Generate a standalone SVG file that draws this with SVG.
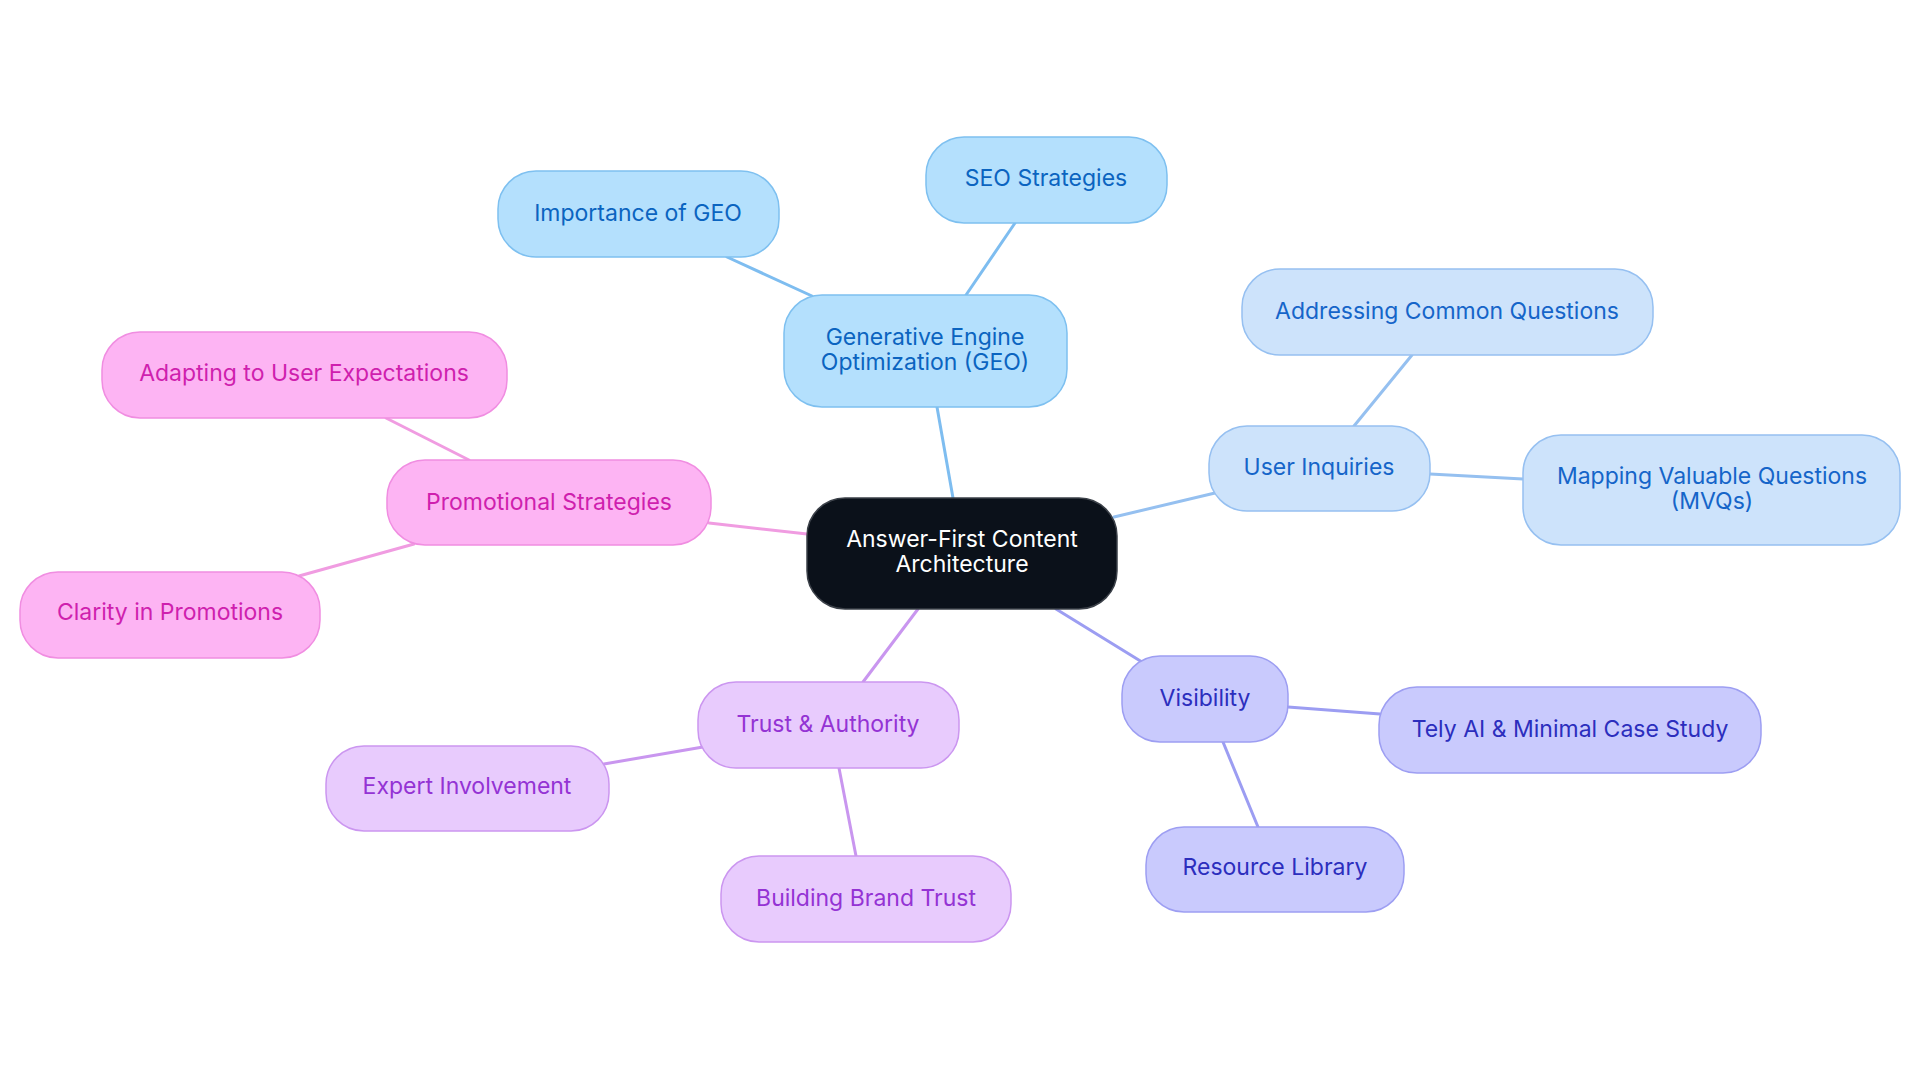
<svg xmlns="http://www.w3.org/2000/svg" width="1920" height="1083" viewBox="0 0 1920 1083">
<style>
text{font-family:Inter,"Noto Sans","Liberation Sans",sans-serif;font-size:23px;text-anchor:middle;dominant-baseline:central}
.geo rect{fill:#b4e0fd;stroke:#7ec0f0;stroke-width:1.5}
.geo text{fill:#0b64c0}
.ui rect{fill:#cde3fb;stroke:#96c0f1;stroke-width:1.5}
.ui text{fill:#1565c9}
.vis rect{fill:#c9cafd;stroke:#9d9ef2;stroke-width:1.5}
.vis text{fill:#2c2ebd}
.tr rect{fill:#e8cbfd;stroke:#cb96f0;stroke-width:1.5}
.tr text{fill:#9433d4}
.pr rect{fill:#fdb4f3;stroke:#f08de1;stroke-width:1.5}
.pr text{fill:#cf1fae}
.c rect{fill:#0b111a;stroke:#3b4048;stroke-width:1.5}
.c text{fill:#ffffff}
#edges line{stroke-width:3;stroke-linecap:round}
.e-geo{stroke:#7ebdf0}.e-ui{stroke:#95c0f0}.e-vis{stroke:#9c9df2}.e-tr{stroke:#c996ef}.e-pr{stroke:#f09ce1}
</style>
<rect width="1920" height="1083" fill="#ffffff"/>
<g id="edges">
<line class="e-geo" x1="953" y1="498" x2="937" y2="407"/>
<line class="e-geo" x1="812" y1="296" x2="727" y2="257"/>
<line class="e-geo" x1="966" y1="295" x2="1015" y2="223"/>
<line class="e-ui" x1="1114" y1="517" x2="1215" y2="493"/>
<line class="e-ui" x1="1354" y1="426" x2="1412" y2="355"/>
<line class="e-ui" x1="1430" y1="474" x2="1523" y2="479"/>
<line class="e-vis" x1="1056" y1="609" x2="1142" y2="662"/>
<line class="e-vis" x1="1288" y1="707" x2="1380" y2="714"/>
<line class="e-vis" x1="1223" y1="742" x2="1258" y2="827"/>
<line class="e-tr" x1="918" y1="609" x2="863" y2="682"/>
<line class="e-tr" x1="703" y1="747" x2="604" y2="764"/>
<line class="e-tr" x1="839" y1="768" x2="856" y2="856"/>
<line class="e-pr" x1="807" y1="534" x2="709" y2="523"/>
<line class="e-pr" x1="469" y1="460" x2="386" y2="418"/>
<line class="e-pr" x1="414" y1="544" x2="299" y2="576"/>
</g>
<g id="center" class="c"><rect x="807" y="498" width="310" height="111" rx="38"/><text x="962" y="539">Answer-First Content</text><text x="962" y="564">Architecture</text></g>
<g id="geo" class="geo"><rect x="784" y="295" width="283" height="112" rx="38"/><text x="925" y="337">Generative Engine</text><text x="925" y="362">Optimization (GEO)</text></g>
<g id="importance-geo" class="geo"><rect x="498" y="171" width="281" height="86" rx="38"/><text x="638" y="213">Importance of GEO</text></g>
<g id="seo" class="geo"><rect x="926" y="137" width="241" height="86" rx="38"/><text x="1046" y="178">SEO Strategies</text></g>
<g id="user-inquiries" class="ui"><rect x="1209" y="426" width="221" height="85" rx="38"/><text x="1319" y="467">User Inquiries</text></g>
<g id="addressing" class="ui"><rect x="1242" y="269" width="411" height="86" rx="38"/><text x="1447" y="311">Addressing Common Questions</text></g>
<g id="mapping" class="ui"><rect x="1523" y="435" width="377" height="110" rx="38"/><text x="1712" y="476">Mapping Valuable Questions</text><text x="1712" y="501">(MVQs)</text></g>
<g id="visibility" class="vis"><rect x="1122" y="656" width="166" height="86" rx="38"/><text x="1205" y="698">Visibility</text></g>
<g id="tely" class="vis"><rect x="1379" y="687" width="382" height="86" rx="38"/><text x="1570" y="729">Tely AI &amp; Minimal Case Study</text></g>
<g id="resource" class="vis"><rect x="1146" y="827" width="258" height="85" rx="38"/><text x="1275" y="867">Resource Library</text></g>
<g id="trust" class="tr"><rect x="698" y="682" width="261" height="86" rx="38"/><text x="828" y="724">Trust &amp; Authority</text></g>
<g id="expert" class="tr"><rect x="326" y="746" width="283" height="85" rx="38"/><text x="467" y="786">Expert Involvement</text></g>
<g id="building" class="tr"><rect x="721" y="856" width="290" height="86" rx="38"/><text x="866" y="898">Building Brand Trust</text></g>
<g id="promo" class="pr"><rect x="387" y="460" width="324" height="85" rx="38"/><text x="549" y="502">Promotional Strategies</text></g>
<g id="adapting" class="pr"><rect x="102" y="332" width="405" height="86" rx="38"/><text x="304" y="373">Adapting to User Expectations</text></g>
<g id="clarity" class="pr"><rect x="20" y="572" width="300" height="86" rx="38"/><text x="170" y="612">Clarity in Promotions</text></g>
</svg>
